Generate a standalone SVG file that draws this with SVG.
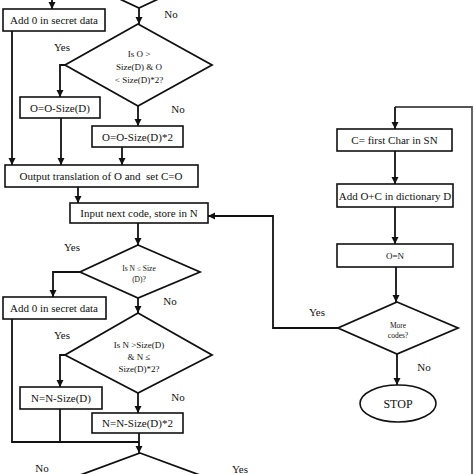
<svg xmlns="http://www.w3.org/2000/svg" width="474" height="474" viewBox="0 0 474 474">
<style>
.box{fill:#fff;stroke:#111;stroke-width:1.6}
.dia{fill:#fff;stroke:#111;stroke-width:1.8}
.t{font-family:"Liberation Serif","Times New Roman",serif;fill:#111;text-anchor:middle;dominant-baseline:central}
.bt{font-size:11px}
.dt{font-size:9px}
.st{font-size:7.5px}
.lb{font-family:"Liberation Serif","Times New Roman",serif;fill:#111;font-size:11px;text-anchor:middle}
.c{fill:none;stroke:#111;stroke-width:1.8}
.ca{fill:none;stroke:#111;stroke-width:1.8;marker-end:url(#ah)}
.cg{fill:none;stroke:#555;stroke-width:1.8}
</style>
<defs>
<marker id="ah" markerUnits="userSpaceOnUse" markerWidth="8" markerHeight="8" refX="7" refY="4" orient="auto">
<path d="M0,0.5 L7,4 L0,7.5 z" fill="#111"/>
</marker>
</defs>
<rect width="474" height="474" fill="#fff"/>

<g id="connectors">
<path class="ca" d="M52,0 V9"/>
<path class="ca" d="M139,8 V24"/>
<path class="ca" d="M12,31 V165"/>
<path class="ca" d="M65,65 H60 V97"/>
<path class="ca" d="M138,106 V126"/>
<path class="ca" d="M61,118 V165"/>
<path class="ca" d="M122,147 V165"/>
<path class="ca" d="M78,187 V203"/>
<path class="ca" d="M138,223 V245"/>
<path class="ca" d="M80,272 H53 V297"/>
<path class="ca" d="M138,298 V313"/>
<path class="c" d="M12,319 V442 H139"/>
<path class="ca" d="M65,355 H60 V387"/>
<path class="ca" d="M138,393 V413"/>
<path class="c" d="M60,409 V442"/>
<path class="ca" d="M139,433 V453"/>
<path class="cg" d="M472,474 V107 H395"/>
<path class="ca" d="M395,107 V129"/>
<path class="ca" d="M395,151 V184"/>
<path class="ca" d="M395,207 V244"/>
<path class="ca" d="M396,267 V302"/>
<path class="ca" d="M338,328 H273 V216 H208"/>
<path class="ca" d="M397,354 V385"/>
</g>

<g id="labels">
<text class="lb" x="171" y="18">No</text>
<text class="lb" x="62" y="51">Yes</text>
<text class="lb" x="178" y="113">No</text>
<text class="lb" x="72" y="251">Yes</text>
<text class="lb" x="170" y="305">No</text>
<text class="lb" x="62" y="339">Yes</text>
<text class="lb" x="178" y="401">No</text>
<text class="lb" x="317" y="316">Yes</text>
<text class="lb" x="424" y="371">No</text>
<text class="lb" x="42" y="472">No</text>
<text class="lb" x="240" y="473">Yes</text>
</g>

<g id="n_top_decision">
<polygon class="dia" points="139,8 197,-19 139,-46 81,-19"/>
</g>

<g id="n_add0_a">
<rect class="box" x="3" y="9" width="102" height="22"/>
<text class="t bt" x="54" y="20">Add 0 in secret data</text>
</g>

<g id="n_is_o">
<polygon class="dia" points="138,24 212,65 138,106 65,65"/>
<text class="t dt" x="139" y="54">Is O &gt;</text>
<text class="t dt" x="139" y="67">Size(D) &amp; O</text>
<text class="t dt" x="139" y="80">&lt; Size(D)*2?</text>
</g>

<g id="n_o_minus">
<rect class="box" x="20" y="97" width="80" height="21"/>
<text class="t bt" x="60" y="107.5">O=O-Size(D)</text>
</g>

<g id="n_o_minus2">
<rect class="box" x="92" y="126" width="91" height="21"/>
<text class="t bt" x="137.5" y="136.5">O=O-Size(D)*2</text>
</g>

<g id="n_output">
<rect class="box" x="5" y="165" width="193" height="22"/>
<text class="t bt" x="101" y="176" xml:space="preserve">Output translation of O and  set C=O</text>
</g>

<g id="n_input">
<rect class="box" x="70" y="203" width="138" height="20"/>
<text class="t bt" x="139" y="213">Input next code, store in N</text>
</g>

<g id="n_is_n">
<polygon class="dia" points="138,245 200,272 138,298 80,272"/>
<text class="t st" x="139" y="268">Is N ≤ Size</text>
<text class="t st" x="139" y="279">(D)?</text>
</g>

<g id="n_add0_b">
<rect class="box" x="3" y="297" width="103" height="22"/>
<text class="t bt" x="54" y="308">Add 0 in secret data</text>
</g>

<g id="n_is_n2">
<polygon class="dia" points="138,313 212,355 138,393 65,355"/>
<text class="t dt" x="139" y="345">Is N &gt;Size(D)</text>
<text class="t dt" x="139" y="357">&amp; N ≤</text>
<text class="t dt" x="139" y="369">Size(D)*2?</text>
</g>

<g id="n_n_minus">
<rect class="box" x="20" y="387" width="82" height="22"/>
<text class="t bt" x="61" y="398">N=N-Size(D)</text>
</g>

<g id="n_n_minus2">
<rect class="box" x="92" y="413" width="91" height="20"/>
<text class="t bt" x="137.5" y="423">N=N-Size(D)*2</text>
</g>

<g id="n_bottom_decision">
<polygon class="dia" points="140,453 254,495 140,537 26,495"/>
</g>

<g id="n_first_char">
<rect class="box" x="337" y="129" width="115" height="22"/>
<text class="t bt" x="394.5" y="140">C= first Char in SN</text>
</g>

<g id="n_add_dict">
<rect class="box" x="337" y="184" width="116" height="23"/>
<text class="t bt" x="395" y="195.5">Add O+C in dictionary D</text>
</g>

<g id="n_o_eq_n">
<rect class="box" x="337" y="244" width="116" height="23"/>
<text class="t dt" x="395" y="255.5">O=N</text>
</g>

<g id="n_more">
<polygon class="dia" points="397,302 458,328 397,354 338,328"/>
<text class="t st" x="398" y="325">More</text>
<text class="t st" x="398" y="335">codes?</text>
</g>

<g id="n_stop">
<ellipse class="box" cx="398" cy="403.5" rx="38" ry="18.5"/>
<text class="t" style="font-size:12px" x="398" y="403.5">STOP</text>
</g>
</svg>
